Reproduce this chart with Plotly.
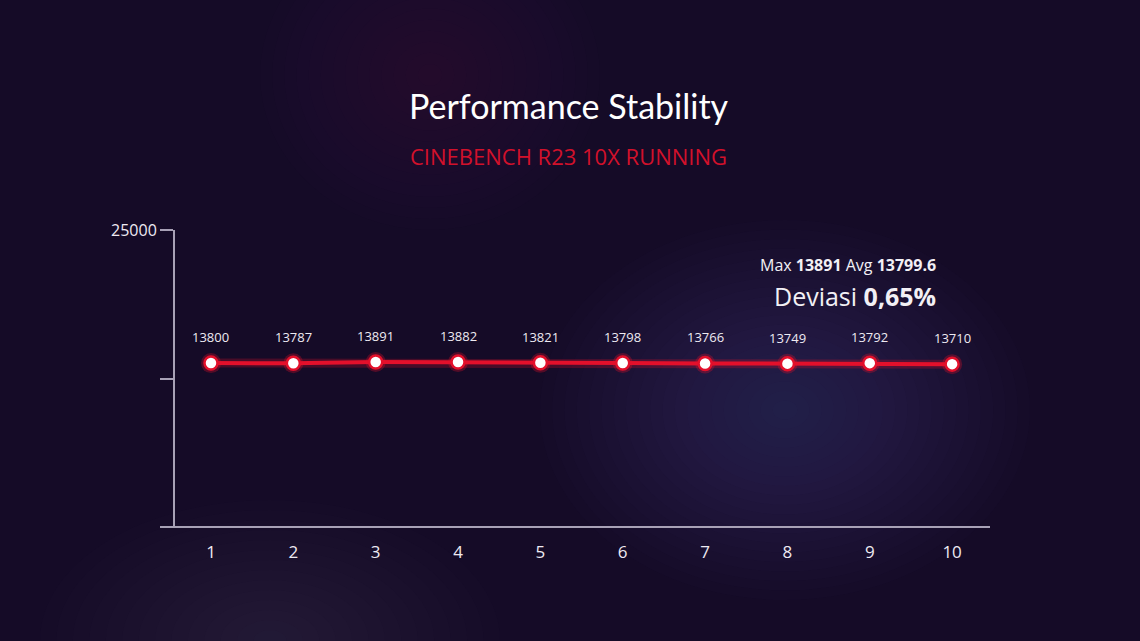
import plotly.graph_objects as go

runs = [1, 2, 3, 4, 5, 6, 7, 8, 9, 10]
scores = [13800, 13787, 13891, 13882, 13821, 13798, 13766, 13749, 13792, 13710]
y_tick_vals = [0, 12500, 25000]
y_tick_text = ["", "", "25000"]
title_text = "Performance Stability"
subtitle_text = "CINEBENCH R23 10X RUNNING"
stats_line = "Max <b>13891</b> Avg <b>13799.6</b>"
dev_line = "Deviasi <b>0,65%</b>"

RED = "#e3102b"
AXIS = "#a8a1b6"
BG = "#150b27"

fig = go.Figure()
# glow
fig.add_trace(go.Scatter(x=runs, y=scores, mode="lines+markers",
                         line=dict(color="rgba(227,16,43,0.25)", width=9),
                         marker=dict(size=20, color="rgba(227,16,43,0.3)", line=dict(width=0)),
                         hoverinfo="skip", showlegend=False))
fig.add_trace(go.Scatter(x=runs, y=scores, mode="lines+markers",
                         line=dict(color=RED, width=4),
                         marker=dict(size=13, color="white", line=dict(color=RED, width=2.5)),
                         showlegend=False))

for xv, yv in zip(runs, scores):
    fig.add_annotation(x=xv, y=yv, text=str(yv), showarrow=False, yshift=26,
                       font=dict(size=13, color="#eeeaf2", family="Open Sans"))

fig.add_annotation(xref="paper", yref="paper", x=0.483, y=1, yshift=125, text=title_text,
                   showarrow=False, xanchor="center", yanchor="middle",
                   font=dict(size=34, color="white", family="Lato"))
fig.add_annotation(xref="paper", yref="paper", x=0.483, y=1, yshift=74, text=subtitle_text,
                   showarrow=False, xanchor="center", yanchor="middle",
                   font=dict(size=22, color="#d2112b", family="Open Sans"))
fig.add_annotation(xref="paper", yref="paper", x=0.936, y=1, yshift=-35, text=stats_line,
                   showarrow=False, xanchor="right", yanchor="middle",
                   font=dict(size=16, color="#f2f0f5", family="Open Sans"))
fig.add_annotation(xref="paper", yref="paper", x=0.936, y=1, yshift=-66, text=dev_line,
                   showarrow=False, xanchor="right", yanchor="middle",
                   font=dict(size=25, color="#f2f0f5", family="Open Sans"))

# soft background haze (paper-pixel ellipses, below everything)
haze = [
    (540, 220, 1030, 600, "rgba(62,62,112,0.03)", 20),
    (40, 500, 500, 780, "rgba(62,50,80,0.03)", 14),
    (260, -80, 600, 230, "rgba(66,56,100,0.022)", 14),
]
for x0, y0, x1, y1, col, n in haze:
    cx, cy = (x0 + x1) / 2, (y0 + y1) / 2
    hw, hh = (x1 - x0) / 2, (y1 - y0) / 2
    for i in range(n):
        f = 1 - i / n
        fig.add_shape(type="circle", xref="paper", yref="paper", layer="below",
                      x0=(cx - hw * f - 175) / 815, x1=(cx + hw * f - 175) / 815,
                      y0=(527 - (cy + hh * f)) / 297, y1=(527 - (cy - hh * f)) / 297,
                      fillcolor=col, line=dict(width=0))

# x axis line extending left of y axis
fig.add_shape(type="line", xref="paper", yref="paper", x0=-0.016, x1=1, y0=0, y1=0,
              line=dict(color=AXIS, width=2))

fig.update_layout(
    width=1140, height=641,
    margin=dict(l=175, r=150, t=230, b=114),
    paper_bgcolor=BG, plot_bgcolor="rgba(0,0,0,0)",
    xaxis=dict(range=[0.563, 10.46], tickvals=runs, showgrid=False, zeroline=False,
               showline=False, ticks="outside", ticklen=10, tickcolor="rgba(0,0,0,0)",
               tickfont=dict(size=17, color="#eeeaf2", family="Open Sans")),
    yaxis=dict(range=[0, 25000], tickvals=y_tick_vals, ticktext=y_tick_text,
               showgrid=False, zeroline=False, showline=True, linecolor=AXIS, linewidth=2,
               ticks="outside", ticklen=13, tickcolor=AXIS, tickwidth=2,
               tickfont=dict(size=16, color="#eeeaf2", family="Open Sans")),
)

fig.write_html("out.html", config={"displayModeBar": False},
               post_script="document.body.style.margin='0';document.body.style.background='%s';" % BG)
